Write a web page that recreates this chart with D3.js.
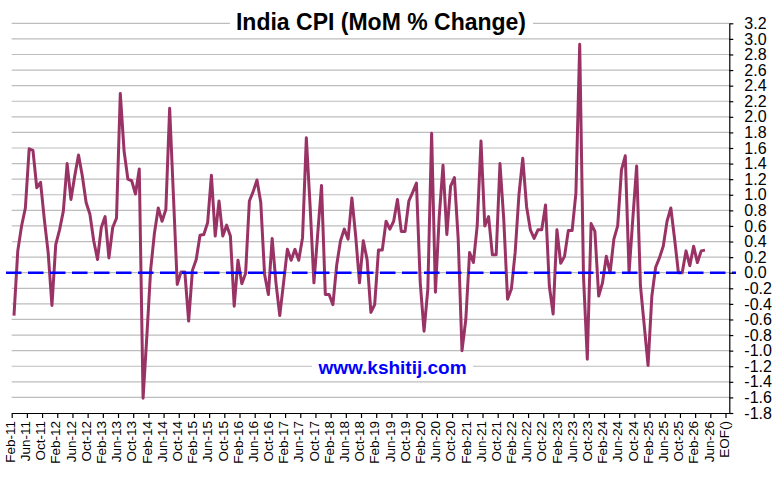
<!DOCTYPE html>
<html>
<head>
<meta charset="utf-8">
<script src="https://cdn.jsdelivr.net/npm/d3@7"></script>
<style>
  body { margin: 0; background: #fff; }
  svg { display: block; font-family: "Liberation Sans", Arial, sans-serif; }
</style>
</head>
<body>
<svg id="chart" width="776" height="491"></svg>
<script>
// India CPI month-on-month % change, monthly from Feb-11
var startMonth = "Feb-11";
var cpiMoM = [
  -0.55, 0.28, 0.60, 0.83, 1.59, 1.57, 1.09, 1.16, 0.68, 0.26,
  -0.42, 0.36, 0.55, 0.79, 1.40, 0.94, 1.24, 1.51, 1.24, 0.90,
  0.75, 0.41, 0.17, 0.58, 0.72, 0.19, 0.58, 0.70, 2.30, 1.56,
  1.20, 1.18, 1.01, 1.33, -1.61, -0.81, 0.04, 0.51, 0.83, 0.66,
  0.81, 2.11, 0.98, -0.15, 0.01, 0.01, -0.62, 0.03, 0.17, 0.48,
  0.49, 0.64, 1.25, 0.47, 0.92, 0.47, 0.61, 0.47, -0.43, 0.16,
  -0.14, -0.01, 0.92, 1.04, 1.19, 0.90, -0.02, -0.28, 0.44, -0.13,
  -0.55, -0.13, 0.30, 0.16, 0.30, 0.16, 0.45, 1.73, 0.85, -0.13,
  0.50, 1.12, -0.28, -0.28, -0.41, 0.10, 0.41, 0.56, 0.43, 0.96,
  0.47, -0.13, 0.41, 0.17, -0.51, -0.41, 0.29, 0.29, 0.66, 0.56,
  0.66, 0.94, 0.53, 0.53, 0.92, 1.03, 1.15, -0.13, -0.75, -0.21,
  1.79, -0.25, 0.72, 1.38, 0.49, 1.11, 1.22, 0.43, -1.00, -0.60,
  0.26, 0.13, 0.60, 1.69, 0.60, 0.72, 0.23, 0.23, 1.40, 0.68,
  -0.34, -0.21, 0.26, 1.00, 1.47, 0.85, 0.55, 0.44, 0.55, 0.55,
  0.87, -0.17, -0.53, 0.55, 0.12, 0.21, 0.54, 0.54, 1.02, 2.93,
  -0.05, -1.11, 0.63, 0.53, -0.30, -0.13, 0.21, 0.00, 0.43, 0.60,
  1.32, 1.50, 0.00, 0.70, 1.37, -0.17, -0.68, -1.19, -0.30, 0.07,
  0.19, 0.34, 0.66, 0.83, 0.43, 0.00, 0.00, 0.28, 0.09, 0.34,
  0.13, 0.28, 0.29
];
var xTickLabels = [
  "Feb-11","Jun-11","Oct-11","Feb-12","Jun-12","Oct-12","Feb-13","Jun-13",
  "Oct-13","Feb-14","Jun-14","Oct-14","Feb-15","Jun-15","Oct-15","Feb-16",
  "Jun-16","Oct-16","Feb-17","Jun-17","Oct-17","Feb-18","Jun-18","Oct-18",
  "Feb-19","Jun-19","Oct-19","Feb-20","Jun-20","Oct-20","Feb-21","Jun-21",
  "Oct-21","Feb-22","Jun-22","Oct-22","Feb-23","Jun-23","Oct-23","Feb-24",
  "Jun-24","Oct-24","Feb-25","Jun-25","Oct-25","Feb-26","Jun-26","EOF()"
];
var yTicks = [-1.8,-1.6,-1.4,-1.2,-1.0,-0.8,-0.6,-0.4,-0.2,0.0,0.2,0.4,0.6,0.8,
  1.0,1.2,1.4,1.6,1.8,2.0,2.2,2.4,2.6,2.8,3.0,3.2];

var svg = d3.select("#chart");
var plotLeft = 11.7, plotRight = 729.3, plotTop = 23.3, plotBottom = 413;

// months since Feb-11 on the x axis
var x = d3.scaleLinear().domain([0, 189]).range([plotLeft, plotRight]);
var y = d3.scaleLinear().domain([-1.8, 3.2]).range([plotBottom, plotTop]);

svg.append("rect").attr("width", 776).attr("height", 491).attr("fill", "#fff");

svg.append("g")
    .selectAll("line")
    .data(yTicks.filter(d => d > -1.8))
    .enter().append("line")
    .attr("x1", plotLeft).attr("x2", plotRight)
    .attr("y1", d => y(d)).attr("y2", d => y(d))
    .attr("stroke", "#bdbdbd")
    .attr("stroke-width", 1.2);

var line = d3.line()
    .x((d, i) => x(i + 0.6))
    .y(d => y(d));

svg.append("path")
    .datum(cpiMoM)
    .attr("d", line)
    .attr("fill", "none")
    .attr("stroke", "#993366")
    .attr("stroke-width", 3)
    .attr("stroke-linejoin", "round");

svg.append("line")
    .attr("x1", 6).attr("x2", 736)
    .attr("y1", y(0)).attr("y2", y(0))
    .attr("stroke", "#0000ff")
    .attr("stroke-width", 2.6)
    .attr("stroke-dasharray", "15.5,6.5");

// bottom axis
var xAxis = d3.axisBottom(x)
    .tickValues(xTickLabels.map((d, i) => i * 4))
    .tickFormat((d, i) => xTickLabels[i])
    .tickSize(5)
    .tickSizeOuter(0);

var gx = svg.append("g")
    .attr("transform", `translate(0,${plotBottom})`)
    .call(xAxis);
gx.select(".domain").attr("stroke", "#000").attr("stroke-width", 1.2);
gx.selectAll(".tick line").attr("stroke", "#000").attr("stroke-width", 1.2);
gx.selectAll(".tick text")
    .attr("font-family", "Liberation Sans, Arial, sans-serif")
    .attr("font-size", 13.5)
    .attr("fill", "#000")
    .attr("text-anchor", "end")
    .attr("y", 0)
    .attr("x", 0)
    .attr("dy", "0.35em")
    .attr("transform", "translate(-2,8) rotate(-90)");

// right axis
var yAxis = d3.axisRight(y)
    .tickValues(yTicks)
    .tickFormat(d => d.toFixed(1))
    .tickSize(4)
    .tickPadding(11)
    .tickSizeOuter(0);

var gy = svg.append("g")
    .attr("transform", `translate(${plotRight},0)`)
    .call(yAxis);
gy.select(".domain").attr("stroke", "#000").attr("stroke-width", 1.2);
gy.selectAll(".tick line").attr("stroke", "#000").attr("stroke-width", 1.2);
gy.selectAll(".tick text")
    .attr("font-family", "Liberation Sans, Arial, sans-serif")
    .attr("font-size", 16)
    .attr("fill", "#000");

// title
svg.append("rect")
    .attr("x", 230).attr("y", 8).attr("width", 303).attr("height", 30)
    .attr("fill", "#fff");
svg.append("text")
    .attr("x", 381).attr("y", 30)
    .attr("text-anchor", "middle")
    .attr("font-size", 23)
    .attr("font-weight", "bold")
    .attr("fill", "#000")
    .text("India CPI (MoM % Change)");

// watermark
svg.append("rect")
    .attr("x", 312).attr("y", 356).attr("width", 161).attr("height", 22)
    .attr("fill", "#fff");
svg.append("text")
    .attr("x", 392.5).attr("y", 374)
    .attr("text-anchor", "middle")
    .attr("font-size", 19)
    .attr("font-weight", "bold")
    .attr("fill", "#0000ff")
    .text("www.kshitij.com");
</script>
</body>
</html>
